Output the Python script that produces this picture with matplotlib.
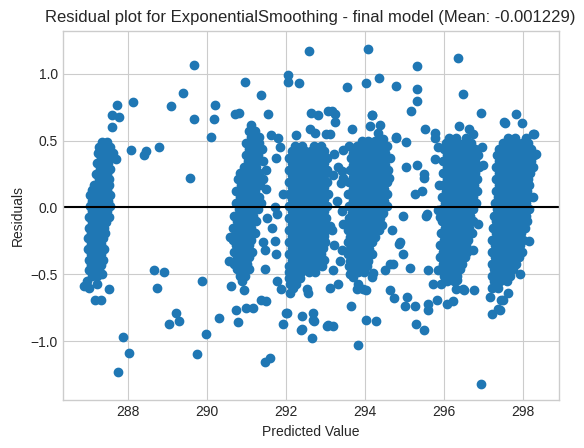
import numpy as np
import matplotlib
matplotlib.use("Agg")
import matplotlib.pyplot as plt

# dense groups of residuals, one row = (residual, [predicted values])
rows_a = [
    (0.49, [287.33, 287.46]),
    (0.45, [287.27, 287.41, 287.54]),
    (0.41, [287.24, 287.37, 287.50, 287.62]),
    (0.37, [287.30, 287.43, 287.56]),
    (0.33, [287.22, 287.35, 287.48]),
    (0.29, [287.28, 287.41, 287.54]),
    (0.25, [287.19, 287.32, 287.45]),
    (0.21, [287.25, 287.38, 287.51]),
    (0.17, [287.14, 287.27, 287.40, 287.52]),
    (0.13, [287.08, 287.21, 287.34, 287.47]),
    (0.09, [287.03, 287.15, 287.28, 287.41, 287.54]),
    (0.05, [287.09, 287.22, 287.35, 287.48]),
    (0.01, [287.02, 287.15, 287.28, 287.41, 287.55]),
    (-0.03, [287.08, 287.21, 287.34, 287.47]),
    (-0.07, [287.01, 287.14, 287.27, 287.40, 287.50]),
    (-0.11, [287.07, 287.20, 287.33, 287.44]),
    (-0.15, [287.00, 287.13, 287.26, 287.39]),
    (-0.19, [287.06, 287.19, 287.32, 287.42]),
    (-0.23, [286.99, 287.12, 287.25, 287.36]),
    (-0.27, [287.05, 287.18, 287.31]),
    (-0.31, [286.99, 287.12, 287.25, 287.38]),
    (-0.35, [287.05, 287.18, 287.31]),
    (-0.39, [287.00, 287.13, 287.26, 287.35]),
    (-0.43, [287.06, 287.19, 287.30]),
    (-0.47, [287.01, 287.14, 287.27]),
    (-0.51, [287.08, 287.20]),
]

rows_b = [
    (0.62, [291.12]),
    (0.57, [291.05, 291.21]),
    (0.53, [291.12, 291.30]),
    (0.48, [290.99, 291.15, 291.31]),
    (0.44, [291.06, 291.22, 291.38]),
    (0.39, [290.97, 291.13, 291.29]),
    (0.35, [291.04, 291.20, 291.40]),
    (0.30, [290.92, 291.08, 291.24]),
    (0.26, [290.84, 291.00, 291.16, 291.32]),
    (0.21, [290.78, 290.93, 291.09, 291.25, 291.40]),
    (0.17, [290.86, 291.01, 291.17, 291.33]),
    (0.12, [290.74, 290.90, 291.06, 291.22]),
    (0.08, [290.82, 290.98, 291.14, 291.30]),
    (0.03, [290.72, 290.88, 291.04, 291.20, 291.36]),
    (-0.01, [290.80, 290.96, 291.12, 291.28]),
    (-0.06, [290.68, 290.84, 291.00, 291.16]),
    (-0.10, [290.76, 290.92, 291.08, 291.24]),
    (-0.15, [290.64, 290.80, 290.96, 291.12]),
    (-0.19, [290.72, 290.88, 291.04, 291.20]),
    (-0.24, [290.66, 290.82, 290.98, 291.12]),
    (-0.28, [290.74, 290.90, 291.06]),
    (-0.33, [290.68, 290.84, 291.00, 291.13]),
    (-0.37, [290.76, 290.92, 291.06]),
    (-0.42, [290.68, 290.84, 291.00]),
    (-0.46, [290.76, 290.92, 291.06]),
    (-0.51, [290.82, 290.96]),
    (-0.55, [290.88]),
]

rows_c = [
    (0.46, [292.22, 292.40, 292.70, 292.88]),
    (0.42, [292.14, 292.30, 292.47, 292.62, 292.78, 292.95]),
    (0.37, [292.08, 292.23, 292.39, 292.55, 292.71, 292.87, 293.03]),
    (0.33, [292.15, 292.31, 292.47, 292.63, 292.79, 292.95]),
    (0.28, [292.07, 292.23, 292.39, 292.55, 292.71, 292.87, 293.04]),
    (0.24, [292.15, 292.31, 292.47, 292.63, 292.79, 292.95]),
    (0.19, [292.08, 292.23, 292.39, 292.55, 292.71, 292.87, 293.03]),
    (0.15, [292.15, 292.31, 292.47, 292.63, 292.79, 292.95]),
    (0.10, [292.07, 292.23, 292.39, 292.55, 292.71, 292.87, 293.05]),
    (0.06, [292.15, 292.31, 292.47, 292.63, 292.79, 292.95]),
    (0.01, [292.07, 292.23, 292.39, 292.55, 292.71, 292.87, 293.03]),
    (-0.03, [292.15, 292.31, 292.47, 292.63, 292.79, 292.95]),
    (-0.08, [292.07, 292.23, 292.39, 292.55, 292.71, 292.87, 293.02]),
    (-0.12, [292.15, 292.31, 292.47, 292.63, 292.79, 292.95]),
    (-0.17, [292.07, 292.23, 292.39, 292.55, 292.71, 292.87, 293.02]),
    (-0.21, [292.15, 292.31, 292.47, 292.63, 292.79, 292.95]),
    (-0.26, [292.07, 292.23, 292.39, 292.55, 292.71, 292.87, 292.98]),
    (-0.30, [292.15, 292.31, 292.47, 292.63, 292.79, 292.93]),
    (-0.35, [292.07, 292.23, 292.39, 292.55, 292.71, 292.87]),
    (-0.39, [292.15, 292.31, 292.47, 292.63, 292.79, 292.95]),
    (-0.44, [292.07, 292.23, 292.39, 292.55, 292.71, 292.90]),
    (-0.48, [292.08, 292.22, 292.38, 292.58, 292.72]),
    (-0.53, [292.06, 292.20, 292.34]),
    (-0.57, [292.10, 292.26]),
]

rows_d = [
    (0.50, [293.92, 294.08, 294.24, 294.42]),
    (0.46, [293.78, 293.94, 294.10, 294.26, 294.42, 294.56]),
    (0.41, [293.70, 293.86, 294.02, 294.18, 294.34, 294.50]),
    (0.37, [293.64, 293.78, 293.94, 294.10, 294.26, 294.42, 294.58]),
    (0.32, [293.70, 293.86, 294.02, 294.18, 294.34, 294.50]),
    (0.28, [293.62, 293.78, 293.94, 294.10, 294.26, 294.42, 294.58]),
    (0.23, [293.70, 293.86, 294.02, 294.18, 294.34, 294.50]),
    (0.19, [293.60, 293.76, 293.92, 294.08, 294.24, 294.40, 294.56]),
    (0.14, [293.68, 293.84, 294.00, 294.16, 294.32, 294.48]),
    (0.10, [293.60, 293.76, 293.92, 294.08, 294.24, 294.40, 294.55]),
    (0.05, [293.68, 293.84, 294.00, 294.16, 294.32, 294.48]),
    (0.01, [293.58, 293.74, 293.90, 294.06, 294.22, 294.38, 294.54]),
    (-0.04, [293.66, 293.82, 293.98, 294.14, 294.30, 294.46]),
    (-0.08, [293.58, 293.74, 293.90, 294.06, 294.22, 294.38]),
    (-0.13, [293.64, 293.80, 293.96, 294.12, 294.28, 294.42]),
    (-0.17, [293.56, 293.72, 293.88, 294.04, 294.20, 294.34]),
    (-0.22, [293.62, 293.78, 293.94, 294.10, 294.26]),
    (-0.26, [293.56, 293.72, 293.88, 294.04, 294.18]),
    (-0.31, [293.62, 293.78, 293.94, 294.10]),
    (-0.35, [293.56, 293.72, 293.88, 294.04, 294.16]),
    (-0.40, [293.62, 293.78, 293.94, 294.08]),
    (-0.44, [293.58, 293.74, 293.90, 294.04]),
    (-0.48, [293.66, 293.82, 293.98]),
]

rows_e = [
    (0.52, [296.12, 296.30, 296.55]),
    (0.48, [296.05, 296.20, 296.36, 296.52, 296.68]),
    (0.44, [296.00, 296.14, 296.30, 296.46, 296.62, 296.78]),
    (0.39, [296.06, 296.22, 296.38, 296.54, 296.70, 296.86]),
    (0.35, [295.98, 296.14, 296.30, 296.46, 296.62, 296.78]),
    (0.30, [296.06, 296.22, 296.38, 296.54, 296.70, 296.88]),
    (0.26, [295.98, 296.14, 296.30, 296.46, 296.62, 296.78]),
    (0.21, [296.06, 296.22, 296.38, 296.54, 296.70, 296.84]),
    (0.17, [295.96, 296.12, 296.28, 296.44, 296.60, 296.76]),
    (0.12, [296.04, 296.20, 296.36, 296.52, 296.68, 296.84]),
    (0.08, [295.94, 296.10, 296.26, 296.42, 296.58, 296.74]),
    (0.03, [296.02, 296.18, 296.34, 296.50, 296.66, 296.80]),
    (-0.01, [295.94, 296.10, 296.26, 296.42, 296.58, 296.72]),
    (-0.06, [296.02, 296.18, 296.34, 296.50, 296.66]),
    (-0.10, [295.94, 296.10, 296.26, 296.42, 296.58, 296.74]),
    (-0.15, [296.02, 296.18, 296.34, 296.50, 296.64]),
    (-0.19, [295.92, 296.08, 296.24, 296.40, 296.56, 296.70]),
    (-0.24, [296.00, 296.16, 296.32, 296.48, 296.60]),
    (-0.28, [295.90, 296.06, 296.22, 296.38, 296.54]),
    (-0.33, [295.98, 296.14, 296.30, 296.46, 296.58]),
    (-0.37, [295.90, 296.06, 296.22, 296.38, 296.52]),
    (-0.42, [295.98, 296.14, 296.30, 296.46]),
    (-0.46, [295.92, 296.08, 296.24, 296.40]),
    (-0.51, [296.00, 296.16, 296.32]),
    (-0.55, [296.08, 296.24]),
]

rows_f = [
    (0.55, [298.25]),
    (0.52, [297.62, 297.80, 298.08]),
    (0.48, [297.50, 297.66, 297.82, 297.98, 298.12]),
    (0.44, [297.40, 297.56, 297.72, 297.88, 298.04, 298.20]),
    (0.39, [297.34, 297.48, 297.64, 297.80, 297.96, 298.12, 298.28]),
    (0.35, [297.40, 297.56, 297.72, 297.88, 298.04, 298.20]),
    (0.30, [297.32, 297.48, 297.64, 297.80, 297.96, 298.12, 298.26]),
    (0.26, [297.40, 297.56, 297.72, 297.88, 298.04, 298.18]),
    (0.21, [297.32, 297.48, 297.64, 297.80, 297.96, 298.12]),
    (0.17, [297.38, 297.54, 297.70, 297.86, 298.02, 298.16]),
    (0.12, [297.30, 297.46, 297.62, 297.78, 297.94, 298.10]),
    (0.08, [297.36, 297.52, 297.68, 297.84, 298.00, 298.16]),
    (0.03, [297.28, 297.44, 297.60, 297.76, 297.92, 298.08]),
    (-0.01, [297.34, 297.50, 297.66, 297.82, 297.98, 298.14]),
    (-0.06, [297.26, 297.42, 297.58, 297.74, 297.90, 298.06]),
    (-0.10, [297.32, 297.48, 297.64, 297.80, 297.96, 298.10]),
    (-0.15, [297.24, 297.40, 297.56, 297.72, 297.88, 298.04]),
    (-0.19, [297.30, 297.46, 297.62, 297.78, 297.94]),
    (-0.24, [297.22, 297.38, 297.54, 297.70, 297.86, 298.00]),
    (-0.28, [297.28, 297.44, 297.60, 297.76, 297.92]),
    (-0.33, [297.20, 297.36, 297.52, 297.68, 297.84, 297.98]),
    (-0.37, [297.28, 297.44, 297.60, 297.76, 297.90]),
    (-0.42, [297.20, 297.36, 297.52, 297.68, 297.82]),
    (-0.46, [297.26, 297.42, 297.58, 297.74]),
    (-0.51, [297.20, 297.36, 297.52, 297.66]),
    (-0.55, [297.26, 297.42, 297.58]),
    (-0.60, [297.20, 297.36]),
]

# scattered residuals (predicted, residual)
loose = [
    (287.72, 0.77), (287.59, 0.69), (287.77, 0.68), (287.59, 0.60), (288.12, 0.79),
    (288.07, 0.43), (288.40, 0.39), (288.46, 0.42), (288.78, 0.45), (289.09, 0.76),
    (289.38, 0.86), (289.66, 0.66), (289.57, 0.22), (289.66, 1.07), (290.19, 0.77),
    (290.17, 0.66), (290.10, 0.53), (287.68, 0.36),
    (286.95, -0.55), (286.87, -0.59), (287.00, -0.60), (287.52, -0.61), (287.16, -0.69),
    (287.32, -0.69), (287.33, -0.50), (287.20, -0.57), (288.66, -0.47), (288.91, -0.48),
    (288.73, -0.60), (289.87, -0.55), (289.22, -0.79), (289.29, -0.85), (289.03, -0.87),
    (287.87, -0.97), (288.02, -1.09), (287.75, -1.23), (289.74, -1.10), (289.97, -0.95),
    (290.30, -0.83), (290.73, -0.77), (290.78, -0.86), (290.98, -0.75), (291.15, -0.75),
    (291.36, -0.69), (291.48, -0.70), (291.47, -1.16), (291.59, -1.13), (290.60, -0.59),
    (290.93, -0.62),
    (290.95, 0.94), (291.36, 0.84), (291.55, 0.70), (290.70, 0.70), (290.81, 0.71),
    (291.61, 0.54), (291.80, 0.52), (291.84, 0.45), (291.74, 0.37), (291.92, 0.10),
    (291.71, 0.00), (291.76, -0.05), (291.65, -0.15), (291.71, -0.25), (291.42, -0.26),
    (291.46, -0.32), (291.74, -0.35), (291.46, -0.46), (291.77, -0.55), (291.88, -0.61),
    (291.50, 0.28), (291.48, 0.14), (291.52, -0.08), (290.58, -0.22), (290.56, -0.40),
    (292.05, 0.99), (292.05, 0.94), (292.33, 0.93), (292.58, 1.17), (292.64, 0.71),
    (292.81, 0.69), (292.60, 0.59), (292.73, 0.56), (293.06, 0.72), (293.02, 0.55),
    (292.25, 0.54), (293.15, 0.72), (293.23, 0.70), (293.23, 0.64), (293.11, 0.55),
    (292.09, -0.64), (292.18, -0.60), (292.01, -0.79), (291.92, -0.87), (292.41, -0.81),
    (292.37, -0.92), (292.66, -0.98), (292.68, -0.79), (292.68, -0.84), (292.52, -0.61),
    (292.56, -0.64), (292.71, -0.47), (292.71, -0.85), (292.39, -0.91), (293.04, -0.89),
    (293.06, -0.88), (293.19, -0.89), (291.99, -0.79),
    (293.44, 0.43), (293.59, 0.46), (293.40, 0.27), (293.44, 0.22), (293.38, 0.18),
    (293.32, 0.30), (293.57, 0.10), (293.11, -0.14), (293.42, -0.03), (293.17, -0.17),
    (293.40, -0.32), (293.43, -0.12), (293.19, -0.47), (293.11, -0.60), (293.32, -0.57),
    (293.20, 0.40), (293.28, 0.05), (293.22, -0.28), (293.36, -0.40), (293.18, 0.24),
    (293.65, -0.74), (293.81, -1.03), (294.03, -0.84), (294.28, -0.85),
    (293.55, 0.90), (294.08, 1.19), (294.02, 0.93), (294.36, 0.97), (294.78, 0.91),
    (294.16, 0.69), (294.12, 0.61), (294.37, 0.62), (294.33, 0.56), (294.46, 0.51),
    (293.66, 0.59), (294.18, 0.69),
    (293.61, -0.50), (293.70, -0.52), (293.82, -0.57), (293.95, -0.61), (293.78, -0.61),
    (294.20, -0.49), (294.50, -0.47), (294.63, -0.42), (294.01, -0.62), (294.17, -0.52),
    (294.96, -0.06), (294.88, -0.26), (294.96, -0.35), (294.67, -0.17), (295.13, -0.45),
    (295.60, -0.47), (295.85, -0.47), (295.55, -0.06), (295.89, -0.07), (294.79, 0.52),
    (295.03, 0.49), (295.04, 0.30), (295.30, 0.32), (295.49, 0.25), (295.49, 0.22),
    (295.26, 0.10), (295.44, 0.12), (295.32, 1.06), (295.30, 0.89), (295.30, 0.80),
    (295.17, 0.72), (295.51, 0.59), (295.76, 0.56), (295.76, 0.52), (295.85, 0.45),
    (295.77, 0.36), (295.87, 0.17), (295.85, -0.02), (295.57, -0.05), (294.63, -0.62),
    (294.72, -0.68), (295.05, -0.67), (295.01, -0.74), (295.25, -0.74), (295.28, -0.87),
    (295.49, -0.92), (295.59, -0.72), (295.59, -0.77), (295.82, -0.69), (294.71, -0.42),
    (294.86, -0.27), (294.78, 0.53), (294.63, 0.37), (294.60, 0.22),
    (296.35, 1.12), (296.48, 0.85), (296.93, 0.71), (296.38, 0.61), (296.63, 0.59),
    (296.73, 0.55), (295.72, -0.57), (295.93, -0.57), (296.06, -0.72), (296.23, -0.70),
    (296.32, -0.54), (296.47, -0.61), (296.75, -0.62), (296.94, -1.32), (296.51, -0.62),
    (296.29, -0.61), (296.95, 0.45), (296.98, 0.32), (296.86, -0.12), (296.72, -0.32),
    (297.82, 0.70), (297.53, 0.63), (297.98, 0.63), (298.28, 0.55), (297.51, 0.64),
    (297.20, -0.80), (297.37, -0.76), (297.16, -0.67), (297.44, -0.69), (297.62, -0.64),
    (297.92, -0.50), (297.41, -0.77), (297.49, -0.69), (298.32, 0.40), (298.24, 0.08),
    (298.14, -0.25),
]

mean_resid = -0.001229

pred = []
resid = []
for rows in [rows_a, rows_b, rows_c, rows_d, rows_e, rows_f]:
    for r, xs in rows:
        for x in xs:
            pred.append(x)
            resid.append(r)
for x, r in loose:
    pred.append(x)
    resid.append(r)
pred = np.array(pred)
resid = np.array(resid)

plt.style.use("seaborn-v0_8-whitegrid")
fig = plt.figure(figsize=(5.84, 4.48), dpi=100)
ax = fig.add_axes([62.7 / 584, 1 - 400.3 / 448, 496 / 584, 369.6 / 448])
ax.scatter(pred, resid)
ax.axhline(0, color="black")
ax.set_xlim(286.34, 298.9)
ax.set_ylim(-1.444, 1.324)
ax.set_xticks([288, 290, 292, 294, 296, 298])
ax.set_yticks([-1.0, -0.5, 0.0, 0.5, 1.0])
ax.set_xlabel("Predicted Value")
ax.set_ylabel("Residuals")
ax.set_title(f"Residual plot for ExponentialSmoothing - final model (Mean: {mean_resid})")
fig.savefig("out.png", dpi=100)
